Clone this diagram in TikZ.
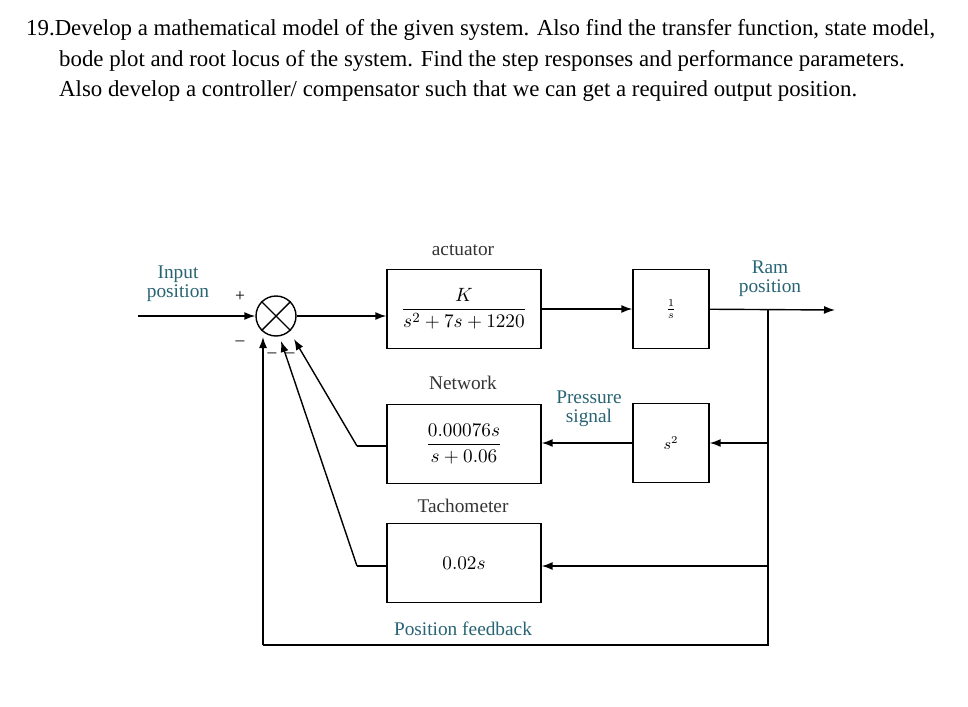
\documentclass[tikz,border=0pt]{standalone}
\usepackage{amsmath}
\usepackage{fontspec}
\setmainfont{Liberation Serif}
\usetikzlibrary{arrows.meta}
\definecolor{lbl}{RGB}{40,100,115}
\begin{document}
\begin{tikzpicture}[x=0.02cm,y=-0.02cm,
  blk/.style={draw,thick,minimum width=3.08cm,minimum height=1.58cm,inner sep=0pt,font=\fontsize{11}{12}\selectfont},
  sblk/.style={draw,thick,minimum width=1.52cm,minimum height=1.58cm,inner sep=0pt,font=\fontsize{9}{10}\selectfont},
  lab/.style={font=\fontsize{11}{12}\selectfont,text=black!80},
  tlab/.style={font=\fontsize{11}{11}\selectfont,text=lbl,align=center},
  sig/.style={thick,-{Latex[length=2.2mm,width=1.6mm]}},
  ln/.style={thick}]
\useasboundingbox (0,0) rectangle (968,707);
% title
\node[anchor=west,font=\fontsize{13}{15}\selectfont] (t1) at (20,30) {19.Develop a mathematical model of the given system. Also find the transfer function, state model,};
\node[anchor=west,font=\fontsize{13}{15}\selectfont] (t2) at (53,61) {bode plot and root locus of the system. Find the step responses and performance parameters.};
\node[anchor=west,font=\fontsize{13}{15}\selectfont] (t3) at (53,91) {Also develop a controller/ compensator such that we can get a required output position.};
% blocks
\node[blk] (act) at (464,309) {$\dfrac{K}{s^2+7s+1220}$};
\node[blk] (net) at (464,444) {$\dfrac{0.00076s}{s+0.06}$};
\node[blk] (tach) at (464,563) {$0.02s$};
\node[sblk] (int) at (671,309) {$\frac{1}{s}$};
\node[sblk] (sq) at (671,443) {$s^2$};
\node[draw,thick,circle,minimum size=0.8cm,inner sep=0pt] (sum) at (276,316) {};
\draw[thick] (sum.north west) -- (sum.south east) (sum.north east) -- (sum.south west);
% labels
\node[lab] (la) at (463,250) {actuator};
\node[lab] (ln) at (463,383) {Network};
\node[lab] (lt) at (463,506) {Tachometer};
\node[tlab] (lp) at (463,629) {Position feedback};
\node[tlab] (li) at (178,284) {Input\\position};
\node[tlab] (lr) at (770,279) {Ram\\position};
\node[tlab] (ls) at (589,409) {Pressure\\signal};
\node (pl) at (240,297) {+};
\node (m1) at (240,343) {--};
\node (m2) at (272,355) {--};
\node (m3) at (290,355) {--};
% coordinates
\coordinate (in) at (138,316);
\coordinate (out) at (835,310);
\coordinate (tp) at (768,310);
\coordinate (bot) at (768,645);
\coordinate (bl) at (263,645);
\coordinate (kn) at (357,446);
\coordinate (kt) at (357,566);
% connectors
\draw[sig] (in) -- (sum);
\draw[sig] (sum) -- (act.west |- sum);
\draw[sig] (act.east |- int) -- (int);
\draw[sig] (int) -- (out);
\draw[ln] (tp) -- (bot) -- (bl);
\draw[sig] (bl) -- (263,337);
\draw[sig] (768,443) -- (sq.east);
\draw[sig] (sq.west) -- (net.east |- sq);
\draw[sig] (768,566) -- (tach.east |- kt);
\draw[ln] (net.west |- kn) -- (kn);
\draw[sig] (kn) -- (294,339);
\draw[ln] (tach.west |- kt) -- (kt);
\draw[sig] (kt) -- (281,341);
\end{tikzpicture}
\end{document}
